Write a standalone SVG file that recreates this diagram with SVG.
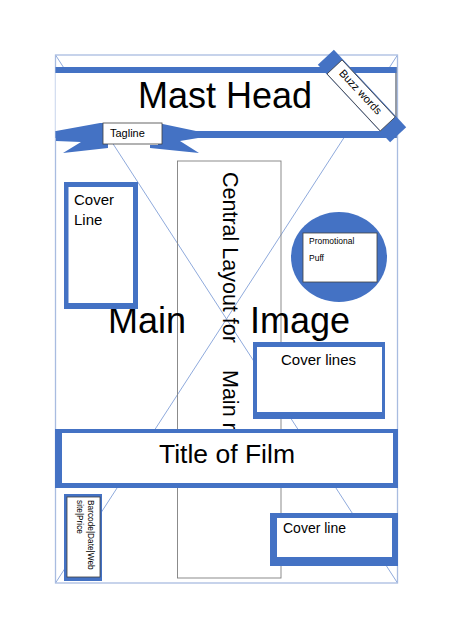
<svg xmlns="http://www.w3.org/2000/svg" width="453" height="640" viewBox="0 0 453 640">
<style>
text{font-family:"Liberation Sans",Arial,sans-serif;fill:#000}
.blue{fill:#4472C4}
.wh{fill:#fff}
.whs{fill:#fff;stroke:#404040;stroke-width:0.8}
.guide{fill:none;stroke:#8FAADC;stroke-width:1}
</style>
<rect width="453" height="640" fill="#fff"/>
<g id="connectors">
<line class="guide" x1="55.5" y1="55" x2="397.5" y2="583"/>
<line class="guide" x1="397.5" y1="55" x2="55.5" y2="583"/>
</g>
<g id="page">
<rect x="55.5" y="55" width="342" height="528" fill="none" stroke="#A9BCE0" stroke-width="1.3"/>
</g>
<g id="central-layout">
<rect x="177.5" y="161" width="103.5" height="417" fill="none" stroke="#7F7F7F" stroke-width="0.9"/>
<text transform="translate(223,172) rotate(90)" font-size="21.5">Central Layout for</text>
<text transform="translate(223,370) rotate(90)" font-size="21.5">Main r</text>
</g>
<g id="main-image">
<text x="108" y="333" font-size="36">Main</text>
<text x="250" y="333" font-size="36">Image</text>
</g>
<g id="masthead">
<rect x="55.5" y="73" width="341" height="58" fill="#fff"/>
<line x1="396" y1="67" x2="396" y2="138" stroke="#505A6A" stroke-width="1.2"/>
<rect class="blue" x="55.5" y="67" width="341" height="6"/>
<rect class="blue" x="55.5" y="131" width="341" height="7"/>
<text x="225" y="108" font-size="36" text-anchor="middle">Mast Head</text>
</g>
<g id="buzz-words" transform="translate(362,96) rotate(47)">
<rect class="blue" x="-53" y="-11" width="106" height="22"/>
<rect class="whs" x="-40" y="-10" width="78" height="20.5"/>
<text x="-4" y="2" font-size="11" text-anchor="middle">Buzz words</text>
</g>
<g id="tagline">
<polygon class="blue" points="56,131 100,123 108,123 108,148 63,153 81,142 56,141"/>
<polygon class="blue" points="158,123 196,131 198,138 180,141 199,153 150,148 150,145 158,145"/>
<rect class="whs" x="103" y="123" width="59" height="21"/>
<text x="110" y="137" font-size="11">Tagline</text>
</g>
<g id="cover-line-left">
<rect class="blue" x="64" y="182" width="74" height="127"/>
<rect class="wh" x="68.5" y="187" width="64.5" height="116"/>
<text x="74" y="205" font-size="15">Cover</text>
<text x="74" y="225" font-size="15">Line</text>
</g>
<g id="promotional-puff">
<ellipse class="blue" cx="339" cy="257" rx="48" ry="45"/>
<rect class="whs" x="303" y="233" width="74" height="49"/>
<text x="309" y="244" font-size="8.5">Promotional</text>
<text x="309" y="261" font-size="8.5">Puff</text>
</g>
<g id="cover-lines">
<rect class="blue" x="253" y="342" width="132" height="77"/>
<rect class="wh" x="257" y="347" width="125" height="65"/>
<text x="318.5" y="365" font-size="15" text-anchor="middle">Cover lines</text>
</g>
<g id="title-of-film">
<rect class="blue" x="55" y="429" width="343" height="59"/>
<rect class="wh" x="62" y="433" width="331" height="50"/>
<text x="227" y="463" font-size="26.5" text-anchor="middle">Title of Film</text>
</g>
<g id="barcode">
<rect class="blue" x="64" y="494" width="38" height="87"/>
<rect class="whs" x="67" y="497" width="33" height="80"/>
<text transform="translate(87.5,500) rotate(90)" font-size="8.3">Barcode|Date|Web</text>
<text transform="translate(77,500) rotate(90)" font-size="8.3">site|Price</text>
</g>
<g id="cover-line-bottom">
<rect class="blue" x="270" y="513" width="128" height="53"/>
<rect class="wh" x="277" y="518" width="115" height="39"/>
<text x="283" y="533" font-size="14">Cover line</text>
</g>
</svg>
